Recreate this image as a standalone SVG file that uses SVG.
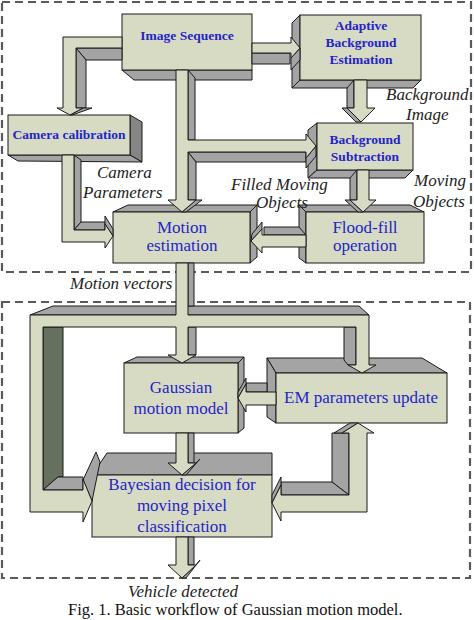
<svg xmlns="http://www.w3.org/2000/svg" width="474" height="620" viewBox="0 0 474 620">
<style>
.frame{fill:none;stroke:#5a5a5a;stroke-width:2.2;stroke-dasharray:8 5}
.face{fill:#d8dbc4;stroke:#1a1a1a;stroke-width:1}
.side{fill:#a4a4a4;stroke:#1a1a1a;stroke-width:1}
.dark{fill:#858585;stroke:#1a1a1a;stroke-width:1}
.green{fill:#66705e;stroke:#1a1a1a;stroke-width:1}
.nt{font-family:"Liberation Serif","Times New Roman",serif;fill:#2424c8;text-anchor:middle}
.sm{font-size:13.5px;font-weight:bold}
.lg{font-size:17px}
.lbl{font-family:"Liberation Serif","Times New Roman",serif;font-style:italic;font-size:17px;fill:#222}
.cap{font-family:"Liberation Serif","Times New Roman",serif;font-size:16.5px;fill:#111}
</style>
<rect width="474" height="620" fill="#ffffff"/>
<g id="frames">
<rect class="frame" x="2" y="2" width="469" height="270"/>
<rect class="frame" x="2" y="302" width="468" height="276"/>
</g>
<g id="n-image">
<polygon class="side" points="122,70 252,70 252,80 134,80"/>
<rect class="face" x="122" y="14" width="130" height="56"/>
<text class="nt sm" x="187" y="40">Image Sequence</text>
</g>
<g id="n-adaptive">
<polygon class="side" points="300,15 292,23 292,88 300,80"/>
<polygon class="side" points="300,80 421,80 413,88 292,88"/>
<rect class="face" x="300" y="15" width="121" height="65"/>
<text class="nt sm" x="361" y="30">Adaptive</text>
<text class="nt sm" x="361" y="47">Background</text>
<text class="nt sm" x="361" y="64">Estimation</text>
</g>
<g id="n-camera">
<polygon class="dark" points="130,115 142,122 142,162 130,155"/>
<polygon class="side" points="8,155 130,155 142,162 18,161"/>
<rect class="face" x="8" y="115" width="122" height="40"/>
<text class="nt sm" x="69" y="139">Camera calibration</text>
</g>
<g id="n-bgsub">
<polygon class="side" points="317,123 308,130 308,178 317,170"/>
<polygon class="side" points="317,170 413,170 405,178 308,178"/>
<rect class="face" x="317" y="123" width="96" height="47"/>
<text class="nt sm" x="365" y="144">Background</text>
<text class="nt sm" x="365" y="161">Subtraction</text>
</g>
<g id="n-motion">
<polygon class="side" points="113,212 128,205 257,205 250,212"/>
<polygon class="side" points="250,212 257,205 257,257 250,263"/>
<rect class="face" x="113" y="212" width="137" height="51"/>
<text class="nt lg" x="182" y="233">Motion</text>
<text class="nt lg" x="182" y="251">estimation</text>
</g>
<g id="n-flood">
<polygon class="side" points="306,212 299,205 410,205 424,212"/>
<polygon class="side" points="306,212 299,205 299,258 306,263"/>
<rect class="face" x="306" y="212" width="118" height="51"/>
<text class="nt lg" x="365" y="233">Flood-fill</text>
<text class="nt lg" x="365" y="251">operation</text>
</g>
<g id="n-gaussian">
<polygon class="side" points="124,363 137,357 244,357 238,363"/>
<polygon class="side" points="238,363 244,357 244,428 238,433"/>
<rect class="face" x="124" y="363" width="114" height="70"/>
<text class="nt lg" x="181" y="393">Gaussian</text>
<text class="nt lg" x="181" y="414">motion model</text>
</g>
<g id="n-em">
<polygon class="side" points="276,373 267,358 422,358 447,373"/>
<polygon class="side" points="276,373 267,358 267,417 276,423"/>
<rect class="face" x="276" y="373" width="171" height="50"/>
<text class="nt lg" x="361" y="403">EM parameters update</text>
</g>
<g id="n-bayes">
<polygon class="side" points="92,475 107,453 272,453 272,475"/>
<rect class="face" x="92" y="475" width="180" height="62"/>
<text class="nt lg" x="182" y="490">Bayesian decision for</text>
<text class="nt lg" x="182" y="511">moving pixel</text>
<text class="nt lg" x="182" y="532">classification</text>
</g>
<g id="connectors">
<g id="c-image-camera">
<polygon class="side" points="122,48 76,48 86,60 122,60"/>
<polygon class="side" points="76,48 86,60 86,108 76,108"/>
<polygon class="side" points="83,108 92,108 72,115 70,115"/>
<polygon class="face" points="122,37 63,37 63,108 57,108 70,115 83,108 76,108 76,48 122,48"/>
</g>
<g id="c-image-adaptive">
<polygon class="side" points="252,53 290,53 290,64 252,64"/>
<polygon class="side" points="291,58 300,48 300,60 291,70"/>
<polygon class="face" points="252,43 291,43 291,37 300,48 291,58 291,53 252,53"/>
</g>
<g id="c-image-motion">
<polygon class="side" points="188,70 195,78 195,140 188,140"/>
<polygon class="side" points="188,152 306,152 306,162 196,162"/>
<polygon class="side" points="188,152 196,162 196,200 188,200"/>
<polygon class="side" points="306,158 316,146 316,156 306,168"/>
<polygon class="side" points="196,200 202,200 186,212 182,212"/>
<polygon class="face" points="176,70 188,70 188,140 306,140 306,134 316,146 306,158 306,152 188,152 188,200 196,200 182,212 168,200 176,200"/>
</g>
<g id="c-adaptive-bgsub">
<polygon class="side" points="354,80 347,88 347,108 354,108"/>
<polygon class="side" points="347,108 342,108 356,122 361,122"/>
<polygon class="face" points="354,80 367,80 367,108 375,108 361,122 347,108 354,108"/>
</g>
<g id="c-bgsub-flood">
<polygon class="side" points="357,170 350,178 350,200 357,200"/>
<polygon class="side" points="350,200 345,200 358,212 363,212"/>
<polygon class="face" points="357,170 369,170 369,200 376,200 363,212 350,200 357,200"/>
</g>
<g id="c-flood-motion">
<polygon class="side" points="299,227 264,227 264,235 306,235"/>
<polygon class="side" points="262,229 262,222 252,234 251,241"/>
<polygon class="face" points="306,235 262,235 262,229 251,241 262,253 262,247 306,247"/>
</g>
<g id="c-camera-motion">
<polygon class="side" points="74,155 81,160 81,222 74,230"/>
<polygon class="side" points="74,230 81,222 105,222 105,230"/>
<polygon class="side" points="105,224 105,216 113,229 113,236"/>
<polygon class="face" points="62,155 74,155 74,230 105,230 105,224 113,236 105,248 105,242 62,242"/>
</g>
<g id="c-motion-split">
<polygon class="side" points="30,315 53,306 359,306 369,315"/>
<polygon class="side" points="188,263 194,263 194,306 188,306"/>
<polygon class="green" points="43,327 63,327 63,477 58,477 43,490"/>
<polygon class="side" points="43,490 58,477 83,477 83,490"/>
<polygon class="side" points="83,480 96,452 100,462 92,501"/>
<polygon class="side" points="344,327 356,327 356,365 348,365 344,360"/>
<polygon class="side" points="188,327 196,327 196,355 188,355"/>
<polygon class="face" points="176,263 188,263 188,315 369,315 369,365 376,365 362,373 348,365 356,365 356,327 188,327 188,355 196,355 182,363 168,355 176,355 176,327 43,327 43,490 83,490 83,479 92,501 83,522 83,512 30,512 30,315 176,315"/>
</g>
<g id="c-gaussian-bayes">
<polygon class="side" points="188,433 194,433 194,463 188,463"/>
<polygon class="side" points="196,463 200,459 186,475 182,475"/>
<polygon class="face" points="176,433 188,433 188,463 196,463 182,475 168,463 176,463"/>
</g>
<g id="c-em-gaussian">
<polygon class="side" points="246,383 267,383 267,392 246,392"/>
<polygon class="side" points="246,384 246,378 238,392 238,398"/>
<polygon class="face" points="276,392 246,392 246,384 238,398 246,412 246,405 276,405"/>
</g>
<g id="c-bayes-em">
<polygon class="side" points="332,433 349,433 349,495 332,482"/>
<polygon class="side" points="281,482 332,482 349,495 281,495"/>
<polygon class="side" points="334,433 342,433 358,423 350,423"/>
<polygon class="side" points="281,485 281,477 272,495 272,503"/>
<polygon class="face" points="281,495 349,495 349,433 342,433 358,423 374,433 367,433 367,512 281,512 281,521 272,503 281,485"/>
</g>
<g id="c-bayes-out">
<polygon class="side" points="188,537 194,537 194,565 188,565"/>
<polygon class="side" points="196,565 200,560 186,578 182,578"/>
<polygon class="face" points="176,537 188,537 188,565 196,565 182,578 168,565 176,565"/>
</g>
</g>
<g id="labels">
<text class="lbl" x="386" y="100">Background</text>
<text class="lbl" x="406" y="120">Image</text>
<text class="lbl" x="97" y="178">Camera</text>
<text class="lbl" x="83" y="198">Parameters</text>
<text class="lbl" x="231" y="190">Filled Moving</text>
<text class="lbl" x="256" y="208">Objects</text>
<text class="lbl" x="414" y="186">Moving</text>
<text class="lbl" x="413" y="207">Objects</text>
<text class="lbl" x="70" y="289">Motion vectors</text>
<text class="lbl" x="128" y="597">Vehicle detected</text>
<text class="cap" x="68" y="615">Fig. 1. Basic workflow of Gaussian motion model.</text>
</g>
</svg>
